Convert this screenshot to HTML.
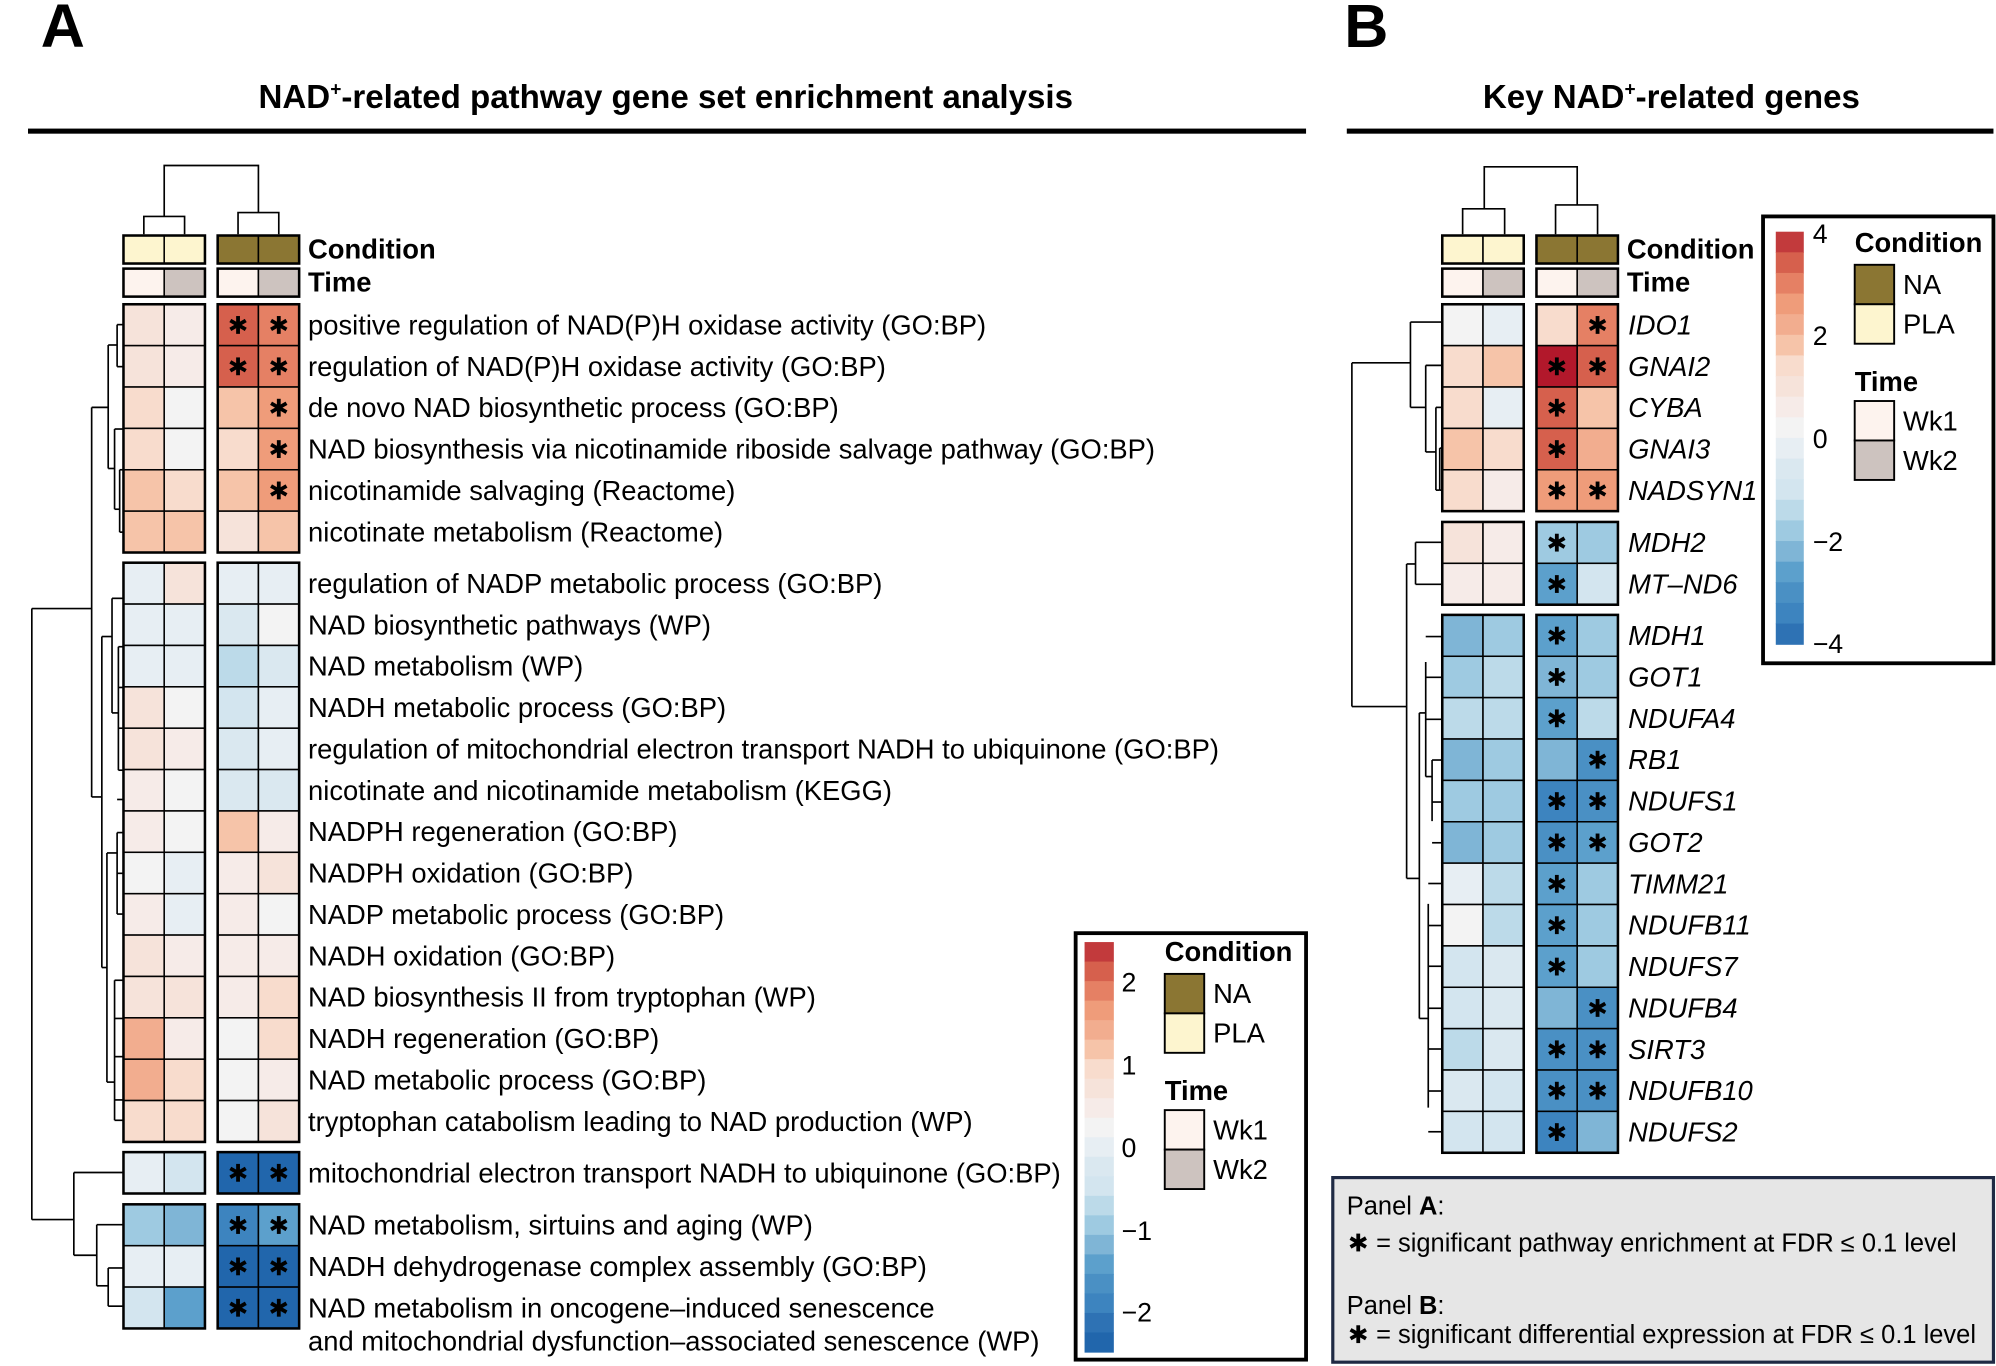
<!DOCTYPE html>
<html><head><meta charset="utf-8"><style>
html,body{margin:0;padding:0;background:#fff;}
svg{display:block;}
text{font-family:"Liberation Sans",Arial,sans-serif;fill:#000;}
</style></head><body>
<svg id="s" width="1996" height="1366" viewBox="0 0 1568 1073" preserveAspectRatio="none" xmlns="http://www.w3.org/2000/svg">
<rect width="1568" height="1073" fill="#fff"/>
<text x="32" y="37" font-size="48" font-weight="bold">A</text>
<text x="1056" y="37" font-size="48" font-weight="bold">B</text>
<text x="523" y="85" font-size="26" font-weight="bold" text-anchor="middle">NAD<tspan font-size="15" dy="-10">+</tspan><tspan dy="10">-related pathway gene set enrichment analysis</tspan></text>
<text x="1313" y="85" font-size="26" font-weight="bold" text-anchor="middle">Key NAD<tspan font-size="15" dy="-10">+</tspan><tspan dy="10">-related genes</tspan></text>
<rect x="22" y="101" width="1004" height="4" fill="#000"/>
<rect x="1058" y="101" width="508" height="4" fill="#000"/>
<g id="g"></g>
</svg>
<script>
const NS="http://www.w3.org/2000/svg",G=document.getElementById('g');
const FS=21.5;
function el(t,a,txt){const e=document.createElementNS(NS,t);for(const k in a)e.setAttribute(k,a[k]);if(txt!==undefined)e.textContent=txt;G.appendChild(e);return e;}
function rect(x,y,w,h,f,sw){el('rect',{x,y,width:w,height:h,fill:f,stroke:'#000','stroke-width':sw||1.2});}
function line(pts){el('polyline',{points:pts,fill:'none',stroke:'#000','stroke-width':1.3});}
function star(cx,cy){const r=7;for(const a of [90,30,150]){const t=a*Math.PI/180;el('line',{x1:cx-r*Math.cos(t),y1:cy-r*Math.sin(t),x2:cx+r*Math.cos(t),y2:cy+r*Math.sin(t),stroke:'#000','stroke-width':3});}}
const PLA='#fdf5cf',NA='#8b7633',W1='#fdf3ee',W2='#cdc3bf';
function heat(x0,x1,groups,rowH){
  const cw=32;
  [[x0,PLA,PLA],[x1,NA,NA]].forEach(([x,a,b])=>{rect(x,185,cw,22,a);rect(x+cw,185,cw,22,b);rect(x,185,2*cw,22,'none',2);});
  [x0,x1].forEach(x=>{rect(x,211,cw,22,W1);rect(x+cw,211,cw,22,W2);rect(x,211,2*cw,22,'none',2);});
  groups.forEach(g=>{
    let y=g.y;
    g.rows.forEach(r=>{
      const xs=[x0,x0+cw,x1,x1+cw];
      for(let i=0;i<4;i++){let c=r[i];let s=c.endsWith('*');if(s)c=c.slice(0,-1);rect(xs[i],y,cw,rowH,c);if(s)star(xs[i]+cw/2,y+rowH/2);}
      y+=rowH;
    });
    rect(x0,g.y,2*cw,y-g.y,'none',2);rect(x1,g.y,2*cw,y-g.y,'none',2);
  });
}
const A1=[
['#f6e3da','#f6ebe8','#d6604d*','#e58064*'],['#f6e3da','#f6ebe8','#d6604d*','#e58064*'],
['#f8dccd','#f3f3f3','#f6c4a9','#ef9c7a*'],['#f8dccd','#f3f3f3','#f8dccd','#ef9c7a*'],
['#f6c4a9','#f8dccd','#f6c4a9','#ef9c7a*'],['#f6c4a9','#f6c4a9','#f6e3da','#f6c4a9']];
const A2=[
['#e7eef3','#f6e3da','#e7eef3','#e7eef3'],['#e7eef3','#e7eef3','#dae8f0','#f3f3f3'],
['#e7eef3','#e7eef3','#bcdae9','#dae8f0'],['#f6e3da','#f3f3f3','#d3e5ef','#e7eef3'],
['#f6e3da','#f6ebe8','#dae8f0','#e7eef3'],['#f6ebe8','#f3f3f3','#dae8f0','#dae8f0'],
['#f6ebe8','#f3f3f3','#f6c4a9','#f6ebe8'],['#f3f3f3','#e7eef3','#f6ebe8','#f6e3da'],
['#f6ebe8','#e7eef3','#f6ebe8','#f3f3f3'],['#f6e3da','#f6ebe8','#f6ebe8','#f6ebe8'],
['#f6e3da','#f6e3da','#f6ebe8','#f8dccd'],['#f2ad8f','#f6ebe8','#f3f3f3','#f8dccd'],
['#f2ad8f','#f8dccd','#f3f3f3','#f6ebe8'],['#f8dccd','#f8dccd','#f3f3f3','#f6e3da']];
const A3=[['#e7eef3','#d3e5ef','#2166ac*','#2166ac*']];
const A4=[['#9ecae1','#7fb5d6','#3d84bf*','#5ca0cc*'],['#e7eef3','#e7eef3','#2166ac*','#2166ac*'],['#d3e5ef','#5ca0cc','#2166ac*','#2166ac*']];
const RH=32.5;
heat(97,171,[{y:239,rows:A1},{y:442,rows:A2},{y:905,rows:A3},{y:946,rows:A4}],RH);
const LA=[[1,"positive regulation of NAD(P)H oxidase activity (GO:BP)"],[1,"regulation of NAD(P)H oxidase activity (GO:BP)"],[1,"de novo NAD biosynthetic process (GO:BP)"],[1,"NAD biosynthesis via nicotinamide riboside salvage pathway (GO:BP)"],[1,"nicotinamide salvaging (Reactome)"],[1,"nicotinate metabolism (Reactome)"],
[2,"regulation of NADP metabolic process (GO:BP)"],[2,"NAD biosynthetic pathways (WP)"],[2,"NAD metabolism (WP)"],[2,"NADH metabolic process (GO:BP)"],[2,"regulation of mitochondrial electron transport NADH to ubiquinone (GO:BP)"],[2,"nicotinate and nicotinamide metabolism (KEGG)"],[2,"NADPH regeneration (GO:BP)"],[2,"NADPH oxidation (GO:BP)"],[2,"NADP metabolic process (GO:BP)"],[2,"NADH oxidation (GO:BP)"],[2,"NAD biosynthesis II from tryptophan (WP)"],[2,"NADH regeneration (GO:BP)"],[2,"NAD metabolic process (GO:BP)"],[2,"tryptophan catabolism leading to NAD production (WP)"],
[3,"mitochondrial electron transport NADH to ubiquinone (GO:BP)"],[4,"NAD metabolism, sirtuins and aging (WP)"],[4,"NADH dehydrogenase complex assembly (GO:BP)"],[4,"NAD metabolism in oncogene\u2013induced senescence"]];
const gy={1:239,2:442,3:905,4:946};let cnt={1:0,2:0,3:0,4:0};
LA.forEach(([g,t])=>{const y=gy[g]+cnt[g]*RH+RH/2+7.5;cnt[g]++;el('text',{x:242,y,'font-size':FS},t);});
el('text',{x:242,y:1061,'font-size':FS},"and mitochondrial dysfunction\u2013associated senescence (WP)");
el('text',{x:242,y:203,'font-size':21.5,'font-weight':'bold'},"Condition");
el('text',{x:242,y:229,'font-size':21.5,'font-weight':'bold'},"Time");
line("113,184 113,170 145,170 145,184");line("187,184 187,167 219,167 219,184");line("129,170 129,130 203,130 203,167");
const dA=["25,478 25,958","25,478 72,478","72,320 72,626","72,320 85,320","85,271 85,368","85,271 92,271","92,255 92,288","92,255 97,255","92,288 97,288","85,368 90,368","90,337 90,400","90,337 97,337","90,400 94,400","94,369 94,418","94,369 97,369","94,418 97,418",
"72,626 80,626","80,500 80,760","80,500 88,500","88,470 88,560","88,470 97,470","88,560 93,560","93,508 93,605","93,508 97,508","93,605 97,605","93,540 97,540","93,572 97,572",
"80,760 84,760","84,670 84,850","84,670 92,670","92,654 92,718","92,654 97,654","92,718 97,718","92,686 97,686","84,850 90,850","90,770 90,880","90,770 97,770","90,800 97,800","90,830 97,830","90,864 97,864","90,880 97,880","92,628 97,628",
"25,958 58,958","58,921 58,986","58,921 97,921","58,986 76,986","76,962 76,1010","76,962 97,962","76,1010 85,1010","85,996 85,1026","85,996 97,996","85,1026 97,1026"];
dA.forEach(p=>line(p));
rect(845,733,181,335,'#fff',3);
function bar(x,y0,y1){const cols=['#c23a3c','#d6604d','#e58064','#ef9c7a','#f2ad8f','#f6c4a9','#f8dccd','#f6e3da','#f6ebe8','#f3f3f3','#e7eef3','#dae8f0','#d3e5ef','#bcdae9','#9ecae1','#7fb5d6','#5ca0cc','#4a90c4','#3d84bf','#2e72b4','#2166ac'];const h=(y1-y0)/cols.length;cols.forEach((c,i)=>el('rect',{x,y:y0+i*h,width:23,height:h+0.5,fill:c}));}
bar(852,740,1062);
[["2",779],["1",844],["0",909],["\u22121",974],["\u22122",1038]].forEach(([t,y])=>el('text',{x:881,y,'font-size':21},t));
function leg(x,yt){el('text',{x,y:yt,'font-size':21.5,'font-weight':'bold'},"Condition");rect(x,yt+10,31,31,NA,1.5);rect(x,yt+41,31,31,PLA,1.5);el('text',{x:x+38,y:yt+33,'font-size':FS},"NA");el('text',{x:x+38,y:yt+64,'font-size':FS},"PLA");
el('text',{x,y:yt+109,'font-size':21.5,'font-weight':'bold'},"Time");rect(x,yt+117,31,31,W1,1.5);rect(x,yt+148,31,31,W2,1.5);el('text',{x:x+38,y:yt+140,'font-size':FS},"Wk1");el('text',{x:x+38,y:yt+171,'font-size':FS},"Wk2");}
leg(915,755);
const B1=[['#f3f3f3','#e7eef3','#f8dccd','#e58064*'],['#f8dccd','#f6c4a9','#b2182b*','#d6604d*'],['#f8dccd','#e7eef3','#d6604d*','#f6c4a9'],['#f6c4a9','#f8dccd','#d6604d*','#f2ad8f'],['#f8dccd','#f6ebe8','#ef9c7a*','#ef9c7a*']];
const B2=[['#f6e3da','#f6ebe8','#9ecae1*','#9ecae1'],['#f6ebe8','#f6ebe8','#5ca0cc*','#d3e5ef']];
const B3=[['#7fb5d6','#9ecae1','#5ca0cc*','#9ecae1'],['#9ecae1','#bcdae9','#7fb5d6*','#9ecae1'],['#bcdae9','#bcdae9','#5ca0cc*','#bcdae9'],['#7fb5d6','#9ecae1','#7fb5d6','#4a90c4*'],['#9ecae1','#9ecae1','#3d84bf*','#4a90c4*'],['#7fb5d6','#9ecae1','#4a90c4*','#5ca0cc*'],['#e7eef3','#bcdae9','#5ca0cc*','#9ecae1'],['#f3f3f3','#bcdae9','#5ca0cc*','#9ecae1'],['#d3e5ef','#dae8f0','#5ca0cc*','#9ecae1'],['#d3e5ef','#dae8f0','#7fb5d6','#4a90c4*'],['#bcdae9','#dae8f0','#4a90c4*','#4a90c4*'],['#dae8f0','#d3e5ef','#4a90c4*','#4a90c4*'],['#d3e5ef','#d3e5ef','#3d84bf*','#7fb5d6']];
heat(1133,1207,[{y:239,rows:B1},{y:410,rows:B2},{y:483,rows:B3}],RH);
el('text',{x:1278,y:203,'font-size':21.5,'font-weight':'bold'},"Condition");
el('text',{x:1278,y:229,'font-size':21.5,'font-weight':'bold'},"Time");
const LB=[[239,["IDO1","GNAI2","CYBA","GNAI3","NADSYN1"]],[410,["MDH2","MT\u2013ND6"]],[483,["MDH1","GOT1","NDUFA4","RB1","NDUFS1","GOT2","TIMM21","NDUFB11","NDUFS7","NDUFB4","SIRT3","NDUFB10","NDUFS2"]]];
LB.forEach(([y0,arr])=>arr.forEach((t,i)=>el('text',{x:1279,y:y0+i*RH+RH/2+7.5,'font-size':FS,'font-style':'italic'},t)));
line("1149,184 1149,164 1182,164 1182,184");line("1222,184 1222,161 1255,161 1255,184");line("1166,164 1166,131 1239,131 1239,161");
const dB=["1062,285 1062,555","1062,285 1108,285","1108,253 1108,320","1108,253 1133,253","1108,320 1120,320","1120,287 1120,355","1120,287 1133,287","1120,355 1128,355","1128,320 1128,385","1128,320 1133,320","1128,385 1131,385","1131,352 1131,385","1131,352 1133,352","1131,385 1133,385",
"1062,555 1105,555","1105,443 1105,690","1105,443 1112,443","1112,426 1112,459","1112,426 1133,426","1112,459 1133,459","1105,690 1115,690","1115,560 1115,800","1115,560 1120,560","1120,520 1120,610","1120,500 1133,500","1120,532 1133,532","1120,565 1133,565","1120,610 1125,610","1125,597 1125,645","1125,597 1133,597","1125,630 1133,630","1125,662 1133,662","1115,800 1122,800","1122,710 1122,870","1122,694 1133,694","1122,727 1133,727","1122,759 1133,759","1122,792 1133,792","1122,824 1133,824","1122,857 1133,857","1122,889 1133,889"];
dB.forEach(p=>line(p));
rect(1385,170,181,351,'#fff',3);
(function(){const cols=['#c23a3c','#d6604d','#e58064','#ef9c7a','#f2ad8f','#f6c4a9','#f8dccd','#f6e3da','#f6ebe8','#f3f3f3','#e7eef3','#dae8f0','#d3e5ef','#bcdae9','#9ecae1','#7fb5d6','#5ca0cc','#4a90c4','#3d84bf','#2e72b4'];const h=(506-182)/cols.length;cols.forEach((c,i)=>el('rect',{x:1395,y:182+i*h,width:22,height:h+0.5,fill:c}));})();
[["4",191],["2",271],["0",352],["\u22122",433],["\u22124",513]].forEach(([t,y])=>el('text',{x:1424,y,'font-size':21},t));
leg(1457,198);
el('rect',{x:1047,y:925,width:519,height:145,fill:'#e6e6e6',stroke:'#1f2a44','stroke-width':2.5});
function note(y,a){const t=el('text',{x:1058,y,'font-size':20});t.appendChild(document.createTextNode('Panel '));const b=document.createElementNS(NS,'tspan');b.setAttribute('font-weight','bold');b.textContent=a;t.appendChild(b);t.appendChild(document.createTextNode(':'));}
note(954,'A');note(1032,'B');
star(1067,976);star(1067,1048);
el('text',{x:1081,y:983,'font-size':20},"= significant pathway enrichment at FDR \u2264 0.1 level");
el('text',{x:1081,y:1055,'font-size':20},"= significant differential expression at FDR \u2264 0.1 level");
</script>
</body></html>
